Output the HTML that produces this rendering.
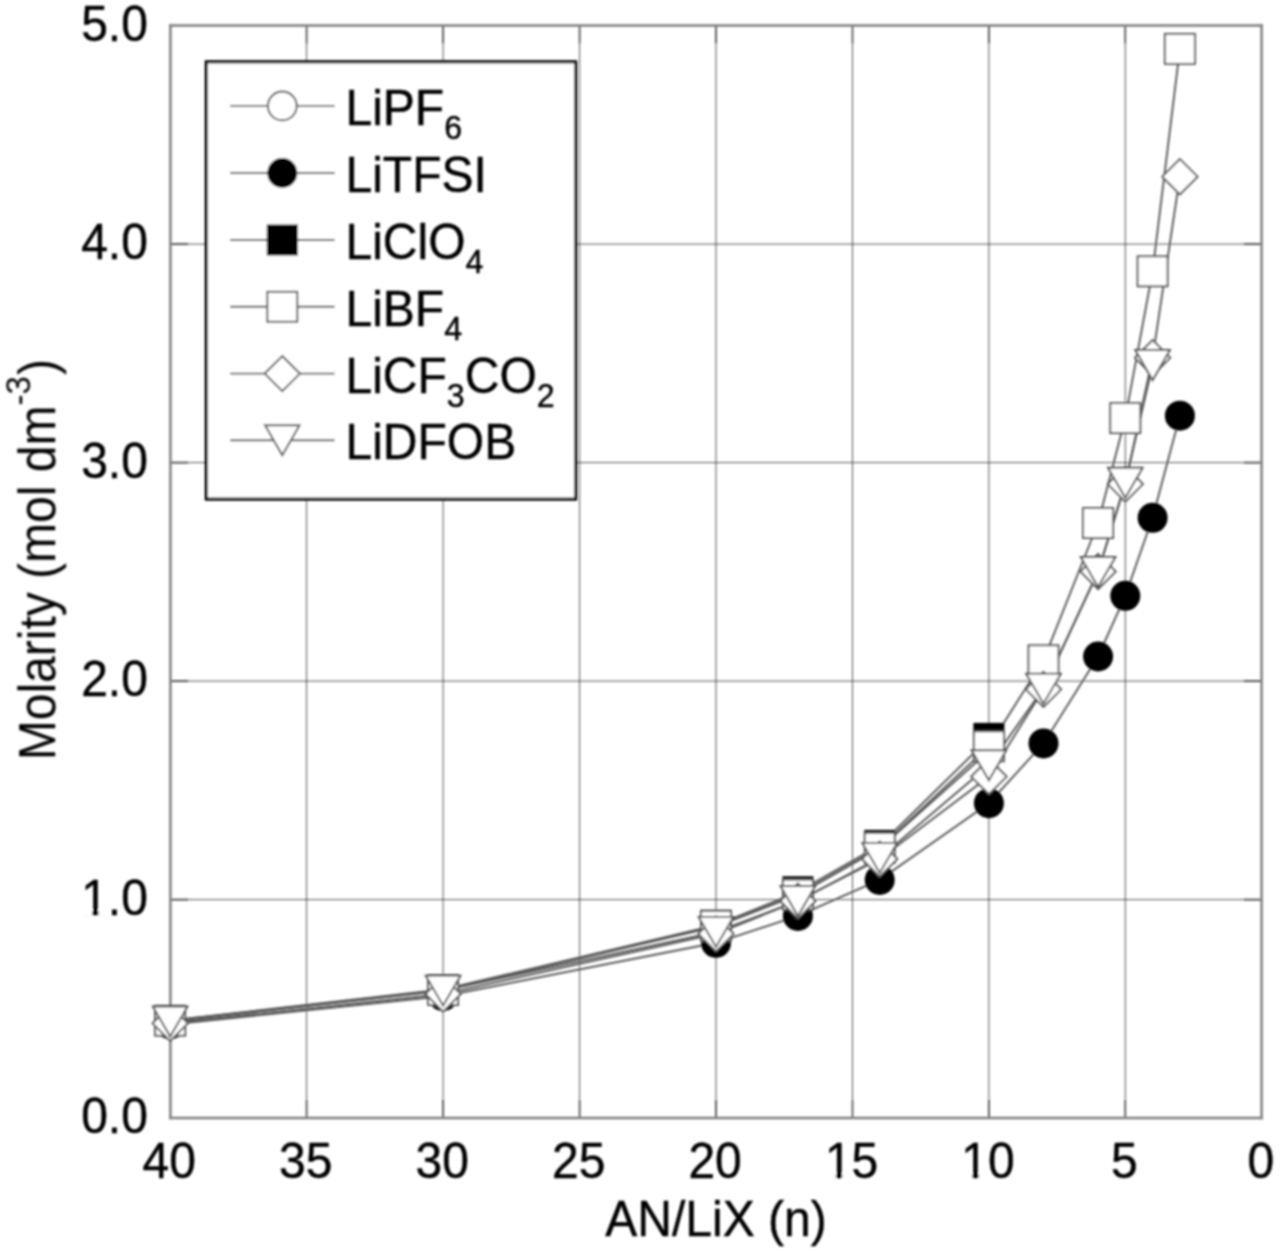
<!DOCTYPE html>
<html lang="en"><head><meta charset="utf-8"><title>Molarity vs AN/LiX</title>
<style>html,body{margin:0;padding:0;background:#fff}svg{display:block}</style></head>
<body>
<svg width="1280" height="1251" viewBox="0 0 1280 1251" font-family="'Liberation Sans', Arial, Helvetica, sans-serif" font-size="50" fill="#000">
<defs><filter id="soft" x="0" y="0" width="1280" height="1251" filterUnits="userSpaceOnUse"><feGaussianBlur stdDeviation="1"/></filter><filter id="softt" x="0" y="0" width="1280" height="1251" filterUnits="userSpaceOnUse"><feGaussianBlur stdDeviation="1"/></filter></defs>
<rect width="1280" height="1251" fill="#fff"/>
<g filter="url(#soft)">
<path d="M1125.3 25.6V1118.1M988.9 25.6V1118.1M852.5 25.6V1118.1M716.0 25.6V1118.1M579.6 25.6V1118.1M443.1 25.6V1118.1M306.6 25.6V1118.1" stroke="#000" stroke-opacity="0.67" stroke-width="1.0" fill="none"/>
<path d="M170.2 899.6H1261.8M170.2 681.1H1261.8M170.2 462.6H1261.8M170.2 244.1H1261.8" stroke="#000" stroke-opacity="0.67" stroke-width="1.0" fill="none"/>
<path d="M1125.3 25.6v18M1125.3 1118.1v-18M988.9 25.6v18M988.9 1118.1v-18M852.5 25.6v18M852.5 1118.1v-18M716.0 25.6v18M716.0 1118.1v-18M579.6 25.6v18M579.6 1118.1v-18M443.1 25.6v18M443.1 1118.1v-18M306.6 25.6v18M306.6 1118.1v-18M170.2 899.6h18M1261.8 899.6h-18M170.2 681.1h18M1261.8 681.1h-18M170.2 462.6h18M1261.8 462.6h-18M170.2 244.1h18M1261.8 244.1h-18" stroke="#4a4a4a" stroke-width="1.6" fill="none"/>
<path d="M170.4 25.6V1118.1M1261.6 25.6V1118.1" stroke="#7e7e7e" stroke-width="2.5" fill="none" stroke-linecap="square"/>
<path d="M170.4 25.6H1261.6M170.4 1118.1H1261.6" stroke="#7e7e7e" stroke-width="2.5" fill="none" stroke-linecap="square"/>
<polyline points="170.2,1021.0 443.1,990.5 716.0,926.5 797.9,895.0 879.7,848.5 988.9,751.0" fill="none" stroke="#595959" stroke-width="1.9"/>
<polyline points="170.2,1024.5 443.1,996.2 716.0,942.8 797.9,915.9 879.7,879.9 988.9,803.2 1043.5,743.4 1098.1,656.5 1125.3,595.8 1152.6,517.8 1179.9,415.7" fill="none" stroke="#595959" stroke-width="1.9"/>
<polyline points="170.2,1020.5 443.1,989.5 716.0,925.2 797.9,891.8 879.7,845.4 988.9,738.4" fill="none" stroke="#595959" stroke-width="1.9"/>
<polyline points="170.2,1020.7 443.1,990.0 716.0,926.0 797.9,894.6 879.7,847.9 988.9,746.3 1043.5,660.3 1098.1,523.0 1125.3,418.1 1152.6,271.3 1179.9,48.9" fill="none" stroke="#595959" stroke-width="1.9"/>
<polyline points="170.2,1023.3 443.1,994.0 716.0,933.8 797.9,901.0 879.7,859.0 988.9,776.6 1043.5,689.3 1098.1,571.5 1125.3,484.1 1152.6,357.8 1179.9,176.7" fill="none" stroke="#595959" stroke-width="1.9"/>
<polyline points="170.2,1021.5 443.1,990.6 716.0,931.9 797.9,901.0 879.7,857.9 988.9,765.3 1043.5,688.6 1098.1,572.0 1125.3,482.8 1152.6,365.0" fill="none" stroke="#595959" stroke-width="1.9"/>
<circle cx="170.2" cy="1021.0" r="14.4" fill="#fff" stroke="#525252" stroke-width="1.9"/>
<circle cx="443.1" cy="990.5" r="14.4" fill="#fff" stroke="#525252" stroke-width="1.9"/>
<circle cx="716.0" cy="926.5" r="14.4" fill="#fff" stroke="#525252" stroke-width="1.9"/>
<circle cx="797.9" cy="895.0" r="14.4" fill="#fff" stroke="#525252" stroke-width="1.9"/>
<circle cx="879.7" cy="848.5" r="14.4" fill="#fff" stroke="#525252" stroke-width="1.9"/>
<circle cx="988.9" cy="751.0" r="14.4" fill="#fff" stroke="#525252" stroke-width="1.9"/>
<circle cx="170.2" cy="1024.5" r="15" fill="#000"/>
<circle cx="443.1" cy="996.2" r="15" fill="#000"/>
<circle cx="716.0" cy="942.8" r="15" fill="#000"/>
<circle cx="797.9" cy="915.9" r="15" fill="#000"/>
<circle cx="879.7" cy="879.9" r="15" fill="#000"/>
<circle cx="988.9" cy="803.2" r="15" fill="#000"/>
<circle cx="1043.5" cy="743.4" r="15" fill="#000"/>
<circle cx="1098.1" cy="656.5" r="15" fill="#000"/>
<circle cx="1125.3" cy="595.8" r="15" fill="#000"/>
<circle cx="1152.6" cy="517.8" r="15" fill="#000"/>
<circle cx="1179.9" cy="415.7" r="15" fill="#000"/>
<rect x="154.7" y="1005.0" width="31" height="31" fill="#000"/>
<rect x="427.6" y="974.0" width="31" height="31" fill="#000"/>
<rect x="700.5" y="909.7" width="31" height="31" fill="#000"/>
<rect x="782.4" y="876.3" width="31" height="31" fill="#000"/>
<rect x="864.2" y="829.9" width="31" height="31" fill="#000"/>
<rect x="973.4" y="722.9" width="31" height="31" fill="#000"/>
<rect x="155.2" y="1005.7" width="30" height="30" fill="#fff" stroke="#525252" stroke-width="1.9"/>
<rect x="428.1" y="975.0" width="30" height="30" fill="#fff" stroke="#525252" stroke-width="1.9"/>
<rect x="701.0" y="911.0" width="30" height="30" fill="#fff" stroke="#525252" stroke-width="1.9"/>
<rect x="782.9" y="879.6" width="30" height="30" fill="#fff" stroke="#525252" stroke-width="1.9"/>
<rect x="864.7" y="832.9" width="30" height="30" fill="#fff" stroke="#525252" stroke-width="1.9"/>
<rect x="973.9" y="731.3" width="30" height="30" fill="#fff" stroke="#525252" stroke-width="1.9"/>
<rect x="1028.5" y="645.3" width="30" height="30" fill="#fff" stroke="#525252" stroke-width="1.9"/>
<rect x="1083.1" y="508.0" width="30" height="30" fill="#fff" stroke="#525252" stroke-width="1.9"/>
<rect x="1110.3" y="403.1" width="30" height="30" fill="#fff" stroke="#525252" stroke-width="1.9"/>
<rect x="1137.6" y="256.3" width="30" height="30" fill="#fff" stroke="#525252" stroke-width="1.9"/>
<rect x="1164.9" y="33.9" width="30" height="30" fill="#fff" stroke="#525252" stroke-width="1.9"/>
<path d="M170.2 1005.7L187.8 1023.3L170.2 1040.9L152.6 1023.3Z" fill="#fff" stroke="#525252" stroke-width="1.9"/>
<path d="M443.1 976.4L460.7 994.0L443.1 1011.6L425.5 994.0Z" fill="#fff" stroke="#525252" stroke-width="1.9"/>
<path d="M716.0 916.2L733.6 933.8L716.0 951.4L698.4 933.8Z" fill="#fff" stroke="#525252" stroke-width="1.9"/>
<path d="M797.9 883.4L815.5 901.0L797.9 918.6L780.3 901.0Z" fill="#fff" stroke="#525252" stroke-width="1.9"/>
<path d="M879.7 841.4L897.3 859.0L879.7 876.6L862.1 859.0Z" fill="#fff" stroke="#525252" stroke-width="1.9"/>
<path d="M988.9 759.0L1006.5 776.6L988.9 794.2L971.3 776.6Z" fill="#fff" stroke="#525252" stroke-width="1.9"/>
<path d="M1043.5 671.7L1061.1 689.3L1043.5 706.9L1025.9 689.3Z" fill="#fff" stroke="#525252" stroke-width="1.9"/>
<path d="M1098.1 553.9L1115.7 571.5L1098.1 589.1L1080.5 571.5Z" fill="#fff" stroke="#525252" stroke-width="1.9"/>
<path d="M1125.3 466.5L1142.9 484.1L1125.3 501.7L1107.8 484.1Z" fill="#fff" stroke="#525252" stroke-width="1.9"/>
<path d="M1152.6 340.2L1170.2 357.8L1152.6 375.4L1135.0 357.8Z" fill="#fff" stroke="#525252" stroke-width="1.9"/>
<path d="M1179.9 159.1L1197.5 176.7L1179.9 194.3L1162.3 176.7Z" fill="#fff" stroke="#525252" stroke-width="1.9"/>
<path d="M152.9 1006.5L187.5 1006.5L170.2 1036.5Z" fill="#fff" stroke="#525252" stroke-width="1.9"/>
<path d="M425.8 975.6L460.4 975.6L443.1 1005.6Z" fill="#fff" stroke="#525252" stroke-width="1.9"/>
<path d="M698.7 916.9L733.3 916.9L716.0 946.9Z" fill="#fff" stroke="#525252" stroke-width="1.9"/>
<path d="M780.6 886.0L815.2 886.0L797.9 916.0Z" fill="#fff" stroke="#525252" stroke-width="1.9"/>
<path d="M862.4 842.9L897.0 842.9L879.7 872.9Z" fill="#fff" stroke="#525252" stroke-width="1.9"/>
<path d="M971.6 750.3L1006.2 750.3L988.9 780.3Z" fill="#fff" stroke="#525252" stroke-width="1.9"/>
<path d="M1026.2 673.6L1060.8 673.6L1043.5 703.6Z" fill="#fff" stroke="#525252" stroke-width="1.9"/>
<path d="M1080.8 557.0L1115.4 557.0L1098.1 587.0Z" fill="#fff" stroke="#525252" stroke-width="1.9"/>
<path d="M1108.0 467.8L1142.6 467.8L1125.3 497.8Z" fill="#fff" stroke="#525252" stroke-width="1.9"/>
<path d="M1135.3 350.0L1169.9 350.0L1152.6 380.0Z" fill="#fff" stroke="#525252" stroke-width="1.9"/>
<rect x="206.3" y="61.8" width="369.3" height="437.3" fill="#fff" stroke="#000" stroke-width="3.1"/>
<path d="M230.2 105.9H334.6" stroke="#595959" stroke-width="1.9"/>
<circle cx="282.3" cy="105.9" r="14.4" fill="#fff" stroke="#525252" stroke-width="1.9"/>
<path d="M230.2 173H334.6" stroke="#595959" stroke-width="1.9"/>
<circle cx="282.3" cy="173.0" r="15" fill="#000"/>
<path d="M230.2 240H334.6" stroke="#595959" stroke-width="1.9"/>
<rect x="266.8" y="224.5" width="31" height="31" fill="#000"/>
<path d="M230.2 306.8H334.6" stroke="#595959" stroke-width="1.9"/>
<rect x="267.3" y="291.8" width="30" height="30" fill="#fff" stroke="#525252" stroke-width="1.9"/>
<path d="M230.2 373.6H334.6" stroke="#595959" stroke-width="1.9"/>
<path d="M282.3 356.0L299.9 373.6L282.3 391.2L264.7 373.6Z" fill="#fff" stroke="#525252" stroke-width="1.9"/>
<path d="M230.2 440.3H334.6" stroke="#595959" stroke-width="1.9"/>
<path d="M265.0 425.3L299.6 425.3L282.3 455.3Z" fill="#fff" stroke="#525252" stroke-width="1.9"/>
</g>
<g filter="url(#softt)">
<text transform="translate(345.5 124.9) scale(0.96 1)" font-size="50" text-anchor="start" stroke="#000" stroke-width="0.45">LiPF<tspan dy="14" font-size="33.5">6</tspan></text>
<text transform="translate(345.5 192.0) scale(0.96 1)" font-size="50" text-anchor="start" stroke="#000" stroke-width="0.45">LiTFSI</text>
<text transform="translate(345.5 259.0) scale(0.96 1)" font-size="50" text-anchor="start" stroke="#000" stroke-width="0.45">LiClO<tspan dy="14" font-size="33.5">4</tspan></text>
<text transform="translate(345.5 325.8) scale(0.96 1)" font-size="50" text-anchor="start" stroke="#000" stroke-width="0.45">LiBF<tspan dy="14" font-size="33.5">4</tspan></text>
<text transform="translate(345.5 392.6) scale(0.96 1)" font-size="50" text-anchor="start" stroke="#000" stroke-width="0.45">LiCF<tspan dy="14" font-size="33.5">3</tspan><tspan dy="-14" font-size="50">CO</tspan><tspan dy="14" font-size="33.5">2</tspan></text>
<text transform="translate(345.5 459.3) scale(0.96 1)" font-size="50" text-anchor="start" stroke="#000" stroke-width="0.45">LiDFOB</text>
<text transform="translate(147.9 1133.0) scale(0.96 1)" font-size="50" text-anchor="end" stroke="#000" stroke-width="0.45">0.0</text>
<text transform="translate(147.9 914.5) scale(0.96 1)" font-size="50" text-anchor="end" stroke="#000" stroke-width="0.45">1.0</text>
<rect x="82.81" y="910.20" width="9.43" height="5.6" fill="#fff"/><rect x="98.49" y="910.20" width="9.94" height="5.6" fill="#fff"/>
<text transform="translate(147.9 696.0) scale(0.96 1)" font-size="50" text-anchor="end" stroke="#000" stroke-width="0.45">2.0</text>
<text transform="translate(147.9 477.5) scale(0.96 1)" font-size="50" text-anchor="end" stroke="#000" stroke-width="0.45">3.0</text>
<text transform="translate(147.9 259.0) scale(0.96 1)" font-size="50" text-anchor="end" stroke="#000" stroke-width="0.45">4.0</text>
<text transform="translate(147.9 40.5) scale(0.96 1)" font-size="50" text-anchor="end" stroke="#000" stroke-width="0.45">5.0</text>
<text transform="translate(1260.9 1178.2) scale(0.96 1)" font-size="50" text-anchor="middle" stroke="#000" stroke-width="0.45">0</text>
<text transform="translate(1124.4 1178.2) scale(0.96 1)" font-size="50" text-anchor="middle" stroke="#000" stroke-width="0.45">5</text>
<text transform="translate(988.0 1178.2) scale(0.96 1)" font-size="50" text-anchor="middle" stroke="#000" stroke-width="0.45">10</text>
<rect x="962.95" y="1173.90" width="9.43" height="5.6" fill="#fff"/><rect x="978.62" y="1173.90" width="9.94" height="5.6" fill="#fff"/>
<text transform="translate(851.6 1178.2) scale(0.96 1)" font-size="50" text-anchor="middle" stroke="#000" stroke-width="0.45">15</text>
<rect x="826.50" y="1173.90" width="9.43" height="5.6" fill="#fff"/><rect x="842.17" y="1173.90" width="9.94" height="5.6" fill="#fff"/>
<text transform="translate(715.1 1178.2) scale(0.96 1)" font-size="50" text-anchor="middle" stroke="#000" stroke-width="0.45">20</text>
<text transform="translate(578.7 1178.2) scale(0.96 1)" font-size="50" text-anchor="middle" stroke="#000" stroke-width="0.45">25</text>
<text transform="translate(442.2 1178.2) scale(0.96 1)" font-size="50" text-anchor="middle" stroke="#000" stroke-width="0.45">30</text>
<text transform="translate(305.8 1178.2) scale(0.96 1)" font-size="50" text-anchor="middle" stroke="#000" stroke-width="0.45">35</text>
<text transform="translate(169.3 1178.2) scale(0.96 1)" font-size="50" text-anchor="middle" stroke="#000" stroke-width="0.45">40</text>
<text transform="translate(716.0 1236.0) scale(0.96 1)" font-size="50" text-anchor="middle" stroke="#000" stroke-width="0.45">AN/LiX (n)</text>
<text transform="translate(55.2 760.2) rotate(-90) scale(0.936 1)" font-size="51.3" stroke="none">Molarity (mol dm<tspan dy="-25.5" font-size="35">-3</tspan><tspan dy="25.5" dx="1.5" font-size="51.3">)</tspan></text>
</g>
</svg>
</body></html>
